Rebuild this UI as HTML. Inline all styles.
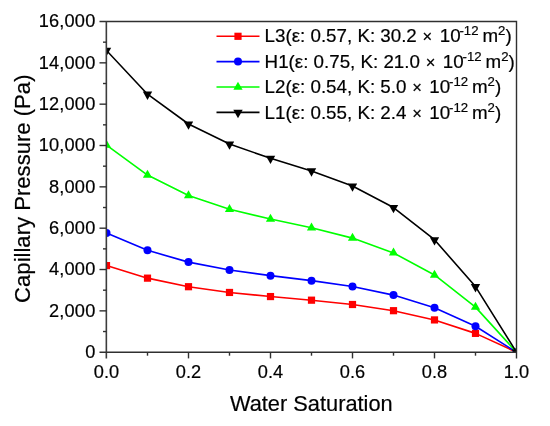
<!DOCTYPE html>
<html><head><meta charset="utf-8"><title>Capillary Pressure vs Water Saturation</title>
<style>html,body{margin:0;padding:0;background:#fff;overflow:hidden}svg{display:block}text{font-family:"Liberation Sans",Arial,sans-serif;fill:#000;stroke:#000;stroke-width:0.2px}</style></head><body>
<svg width="550" height="426" viewBox="0 0 550 426">
<rect width="550" height="426" fill="#fff"/>
<defs><clipPath id="pc"><rect x="106.5" y="21.5" width="410.0" height="330.7"/></clipPath></defs>
<g clip-path="url(#pc)">
<polyline fill="none" stroke="#ff0000" stroke-width="1.6" stroke-linejoin="round" points="106.50,265.60 147.50,278.15 188.50,286.71 229.50,292.46 270.50,296.56 311.50,300.18 352.50,304.50 393.50,310.69 434.50,319.92 475.50,333.37 516.50,352.20"/>
<rect x="102.90" y="262.00" width="7.2" height="7.2" fill="#ff0000"/>
<rect x="143.90" y="274.55" width="7.2" height="7.2" fill="#ff0000"/>
<rect x="184.90" y="283.11" width="7.2" height="7.2" fill="#ff0000"/>
<rect x="225.90" y="288.86" width="7.2" height="7.2" fill="#ff0000"/>
<rect x="266.90" y="292.96" width="7.2" height="7.2" fill="#ff0000"/>
<rect x="307.90" y="296.58" width="7.2" height="7.2" fill="#ff0000"/>
<rect x="348.90" y="300.90" width="7.2" height="7.2" fill="#ff0000"/>
<rect x="389.90" y="307.09" width="7.2" height="7.2" fill="#ff0000"/>
<rect x="430.90" y="316.32" width="7.2" height="7.2" fill="#ff0000"/>
<rect x="471.90" y="329.77" width="7.2" height="7.2" fill="#ff0000"/>
<rect x="512.90" y="348.60" width="7.2" height="7.2" fill="#ff0000"/>
<polyline fill="none" stroke="#0000ff" stroke-width="1.6" stroke-linejoin="round" points="106.50,233.07 147.50,250.33 188.50,262.11 229.50,270.02 270.50,275.65 311.50,280.64 352.50,286.58 393.50,295.10 434.50,307.80 475.50,326.30 516.50,352.20"/>
<circle cx="106.50" cy="233.07" r="4" fill="#0000ff"/>
<circle cx="147.50" cy="250.33" r="4" fill="#0000ff"/>
<circle cx="188.50" cy="262.11" r="4" fill="#0000ff"/>
<circle cx="229.50" cy="270.02" r="4" fill="#0000ff"/>
<circle cx="270.50" cy="275.65" r="4" fill="#0000ff"/>
<circle cx="311.50" cy="280.64" r="4" fill="#0000ff"/>
<circle cx="352.50" cy="286.58" r="4" fill="#0000ff"/>
<circle cx="393.50" cy="295.10" r="4" fill="#0000ff"/>
<circle cx="434.50" cy="307.80" r="4" fill="#0000ff"/>
<circle cx="475.50" cy="326.30" r="4" fill="#0000ff"/>
<circle cx="516.50" cy="352.20" r="4" fill="#0000ff"/>
<polyline fill="none" stroke="#00ff00" stroke-width="1.6" stroke-linejoin="round" points="106.50,145.04 147.50,175.07 188.50,195.55 229.50,209.29 270.50,219.09 311.50,227.76 352.50,238.10 393.50,252.91 434.50,274.99 475.50,307.16 516.50,352.20"/>
<polygon points="106.50,139.74 101.90,147.74 111.10,147.74" fill="#00ff00"/>
<polygon points="147.50,169.77 142.90,177.77 152.10,177.77" fill="#00ff00"/>
<polygon points="188.50,190.25 183.90,198.25 193.10,198.25" fill="#00ff00"/>
<polygon points="229.50,203.99 224.90,211.99 234.10,211.99" fill="#00ff00"/>
<polygon points="270.50,213.79 265.90,221.79 275.10,221.79" fill="#00ff00"/>
<polygon points="311.50,222.46 306.90,230.46 316.10,230.46" fill="#00ff00"/>
<polygon points="352.50,232.80 347.90,240.80 357.10,240.80" fill="#00ff00"/>
<polygon points="393.50,247.61 388.90,255.61 398.10,255.61" fill="#00ff00"/>
<polygon points="434.50,269.69 429.90,277.69 439.10,277.69" fill="#00ff00"/>
<polygon points="475.50,301.86 470.90,309.86 480.10,309.86" fill="#00ff00"/>
<polygon points="516.50,346.90 511.90,354.90 521.10,354.90" fill="#00ff00"/>
<polyline fill="none" stroke="#000000" stroke-width="1.6" stroke-linejoin="round" points="106.50,50.44 147.50,94.18 188.50,124.01 229.50,144.03 270.50,158.31 311.50,170.94 352.50,186.00 393.50,207.57 434.50,239.74 475.50,286.59 516.50,352.20"/>
<polygon points="106.50,56.24 101.80,47.84 111.20,47.84" fill="#000000"/>
<polygon points="147.50,99.98 142.80,91.58 152.20,91.58" fill="#000000"/>
<polygon points="188.50,129.81 183.80,121.41 193.20,121.41" fill="#000000"/>
<polygon points="229.50,149.83 224.80,141.43 234.20,141.43" fill="#000000"/>
<polygon points="270.50,164.11 265.80,155.71 275.20,155.71" fill="#000000"/>
<polygon points="311.50,176.74 306.80,168.34 316.20,168.34" fill="#000000"/>
<polygon points="352.50,191.80 347.80,183.40 357.20,183.40" fill="#000000"/>
<polygon points="393.50,213.37 388.80,204.97 398.20,204.97" fill="#000000"/>
<polygon points="434.50,245.54 429.80,237.14 439.20,237.14" fill="#000000"/>
<polygon points="475.50,292.39 470.80,283.99 480.20,283.99" fill="#000000"/>
<polygon points="516.50,358.00 511.80,349.60 521.20,349.60" fill="#000000"/>
</g>
<g stroke="#303030" stroke-width="1.4" fill="none">
<path d="M99.5,21.5 H516.5 V358.4"/>
<path d="M106.35,21.5 V358.4" stroke="#3c3c3c" stroke-width="1.6"/>
<path d="M99.5,352.2 H516.5"/>
<path d="M103.0,331.53 H106.5"/>
<path d="M99.5,310.86 H106.5"/>
<path d="M103.0,290.19 H106.5"/>
<path d="M99.5,269.52 H106.5"/>
<path d="M103.0,248.86 H106.5"/>
<path d="M99.5,228.19 H106.5"/>
<path d="M103.0,207.52 H106.5"/>
<path d="M99.5,186.85 H106.5"/>
<path d="M103.0,166.18 H106.5"/>
<path d="M99.5,145.51 H106.5"/>
<path d="M103.0,124.84 H106.5"/>
<path d="M99.5,104.17 H106.5"/>
<path d="M103.0,83.51 H106.5"/>
<path d="M99.5,62.84 H106.5"/>
<path d="M103.0,42.17 H106.5"/>
<path d="M147.50,352.2 V355.7"/>
<path d="M188.50,352.2 V358.4"/>
<path d="M229.50,352.2 V355.7"/>
<path d="M270.50,352.2 V358.4"/>
<path d="M311.50,352.2 V355.7"/>
<path d="M352.50,352.2 V358.4"/>
<path d="M393.50,352.2 V355.7"/>
<path d="M434.50,352.2 V358.4"/>
<path d="M475.50,352.2 V355.7"/>
</g>
<g font-size="18.2" text-anchor="end" letter-spacing="0.2">
<text x="95.5" y="357.90">0</text>
<text x="95.5" y="316.56">2,000</text>
<text x="95.5" y="275.22">4,000</text>
<text x="95.5" y="233.89">6,000</text>
<text x="95.5" y="192.55">8,000</text>
<text x="95.5" y="151.21">10,000</text>
<text x="95.5" y="109.87">12,000</text>
<text x="95.5" y="68.54">14,000</text>
<text x="95.5" y="27.20">16,000</text>
</g>
<g font-size="18.2" text-anchor="middle">
<text x="106.50" y="377.9">0.0</text>
<text x="188.50" y="377.9">0.2</text>
<text x="270.50" y="377.9">0.4</text>
<text x="352.50" y="377.9">0.6</text>
<text x="434.50" y="377.9">0.8</text>
<text x="516.50" y="377.9">1.0</text>
</g>
<text x="311.3" y="410.5" font-size="21.8" text-anchor="middle">Water Saturation</text>
<text transform="translate(29.5,188.7) rotate(-90)" font-size="22.1" text-anchor="middle">Capillary Pressure (Pa)</text>
<path d="M216.5,36.3 H259.5" stroke="#ff0000" stroke-width="1.6"/>
<rect x="234.40" y="32.70" width="7.2" height="7.2" fill="#ff0000"/>
<path d="M216.5,61.6 H259.5" stroke="#0000ff" stroke-width="1.6"/>
<circle cx="238.00" cy="61.60" r="4" fill="#0000ff"/>
<path d="M216.5,87.0 H259.5" stroke="#00ff00" stroke-width="1.6"/>
<polygon points="238.00,81.70 233.40,89.70 242.60,89.70" fill="#00ff00"/>
<path d="M216.5,112.4 H259.5" stroke="#000000" stroke-width="1.6"/>
<polygon points="238.00,118.20 233.30,109.80 242.70,109.80" fill="#000000"/>
<g font-size="18.75">
<text x="264.6" y="42.40">L3(ε: 0.57, K: 30.2<tspan dx="1.2" font-size="16.5"> ×</tspan><tspan dx="2.3"> 10</tspan><tspan font-size="13.2" dy="-7" dx="-1.2">-12</tspan><tspan dy="7" dx="-1.3"> m</tspan><tspan font-size="13.2" dy="-7">2</tspan><tspan dy="7">)</tspan></text>
<text x="264.6" y="67.70">H1(ε: 0.75, K: 21.0<tspan dx="1.2" font-size="16.5"> ×</tspan><tspan dx="2.3"> 10</tspan><tspan font-size="13.2" dy="-7" dx="-1.2">-12</tspan><tspan dy="7" dx="-1.3"> m</tspan><tspan font-size="13.2" dy="-7">2</tspan><tspan dy="7">)</tspan></text>
<text x="264.6" y="93.10">L2(ε: 0.54, K: 5.0<tspan dx="1.2" font-size="16.5"> ×</tspan><tspan dx="2.3"> 10</tspan><tspan font-size="13.2" dy="-7" dx="-1.2">-12</tspan><tspan dy="7" dx="-1.3"> m</tspan><tspan font-size="13.2" dy="-7">2</tspan><tspan dy="7">)</tspan></text>
<text x="264.6" y="118.50">L1(ε: 0.55, K: 2.4<tspan dx="1.2" font-size="16.5"> ×</tspan><tspan dx="2.3"> 10</tspan><tspan font-size="13.2" dy="-7" dx="-1.2">-12</tspan><tspan dy="7" dx="-1.3"> m</tspan><tspan font-size="13.2" dy="-7">2</tspan><tspan dy="7">)</tspan></text>
</g>
</svg></body></html>
